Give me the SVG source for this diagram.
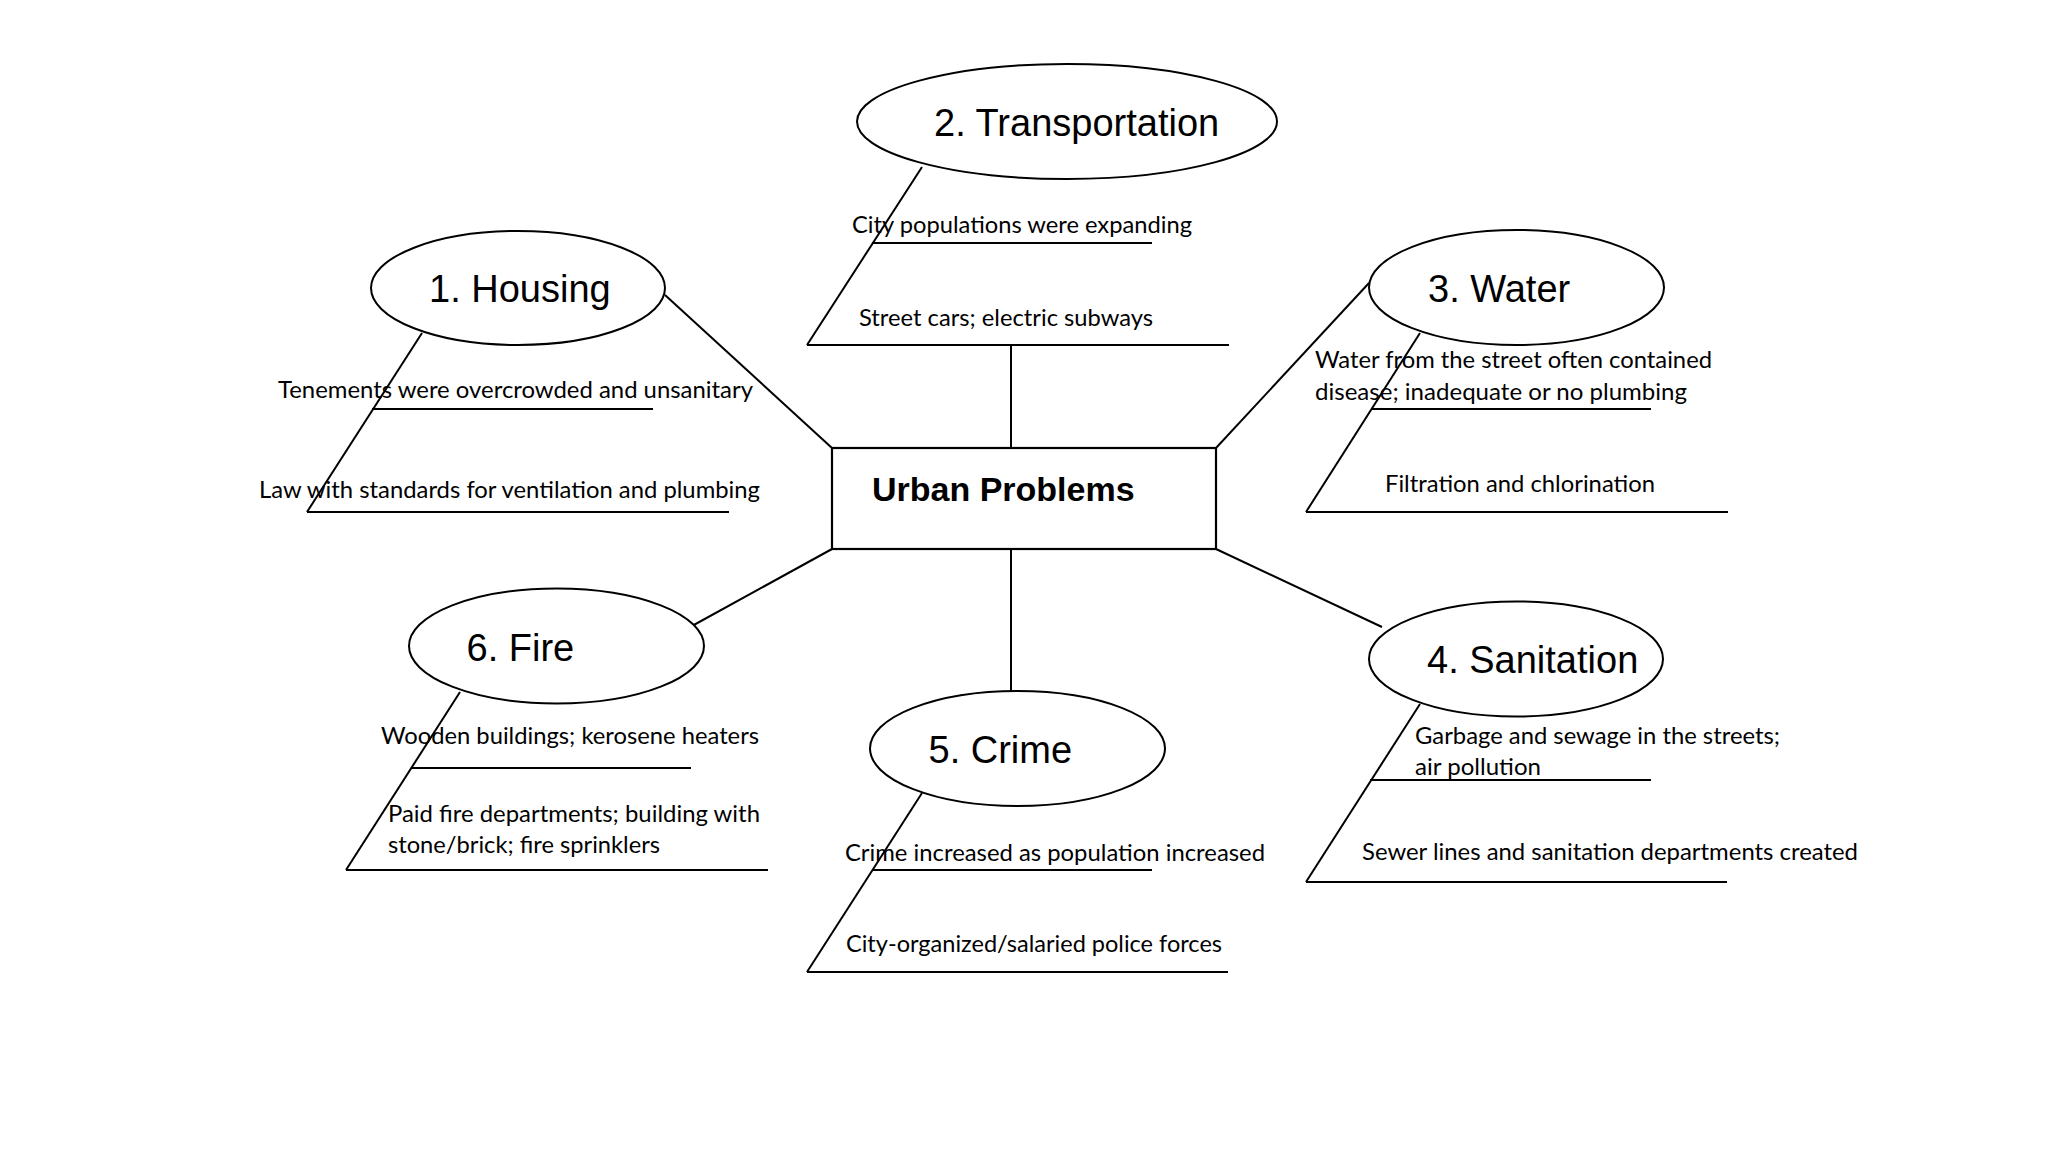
<svg xmlns="http://www.w3.org/2000/svg" width="2048" height="1152" viewBox="0 0 2048 1152">
<style>
.ln{stroke:#000;stroke-width:2;fill:none}
.el{fill:#fff;stroke:#000;stroke-width:2}
.box{fill:#fff;stroke:#000;stroke-width:2.2}
.title{font-family:"Liberation Sans",Arial,sans-serif;font-size:38px;fill:#000}
.main{font-family:"Liberation Sans",Arial,sans-serif;font-size:34px;font-weight:bold;fill:#000}
.body{font-family:Lato,"Open Sans",sans-serif;font-size:23.5px;fill:#000}
</style>
<rect width="2048" height="1152" fill="#fff"/>
<g id="connectors" class="ln">
  <line x1="1011" y1="448" x2="1011" y2="345"/>
  <line x1="665" y1="295" x2="832" y2="448"/>
  <line x1="1216" y1="448" x2="1369" y2="283"/>
  <line x1="832" y1="549" x2="692" y2="626"/>
  <line x1="1216" y1="549" x2="1382" y2="627"/>
  <line x1="1011" y1="549" x2="1011" y2="691"/>
</g>
<g id="center">
  <rect class="box" x="832" y="448" width="384" height="101"/>
  <text class="main" x="872" y="501">Urban Problems</text>
</g>
<g id="housing">
  <line class="ln" x1="422" y1="333" x2="307" y2="512"/>
  <line class="ln" x1="307" y1="512" x2="729" y2="512"/>
  <line class="ln" x1="372" y1="409" x2="653" y2="409"/>
  <ellipse class="el" cx="518" cy="288" rx="147" ry="57"/>
  <text class="title" x="429" y="302">1. Housing</text>
  <text class="body" x="278" y="398" textLength="475" lengthAdjust="spacingAndGlyphs">Tenements were overcrowded and unsanitary</text>
  <text class="body" x="259" y="498" textLength="501" lengthAdjust="spacingAndGlyphs">Law with standards for ventilation and plumbing</text>
</g>
<g id="transportation">
  <line class="ln" x1="922" y1="167" x2="807" y2="345"/>
  <line class="ln" x1="807" y1="345" x2="1229" y2="345"/>
  <line class="ln" x1="872" y1="243" x2="1152" y2="243"/>
  <ellipse class="el" cx="1067" cy="121.5" rx="210" ry="57.5"/>
  <text class="title" x="934" y="136">2. Transportation</text>
  <text class="body" x="852" y="233" textLength="340" lengthAdjust="spacingAndGlyphs">City populations were expanding</text>
  <text class="body" x="859" y="326" textLength="294" lengthAdjust="spacingAndGlyphs">Street cars; electric subways</text>
</g>
<g id="water">
  <line class="ln" x1="1420" y1="333" x2="1306" y2="512"/>
  <line class="ln" x1="1306" y1="512" x2="1728" y2="512"/>
  <line class="ln" x1="1372" y1="409" x2="1651" y2="409"/>
  <ellipse class="el" cx="1516.5" cy="287.5" rx="147.5" ry="57.5"/>
  <text class="title" x="1428" y="302">3. Water</text>
  <text class="body" x="1315" y="368" textLength="397" lengthAdjust="spacingAndGlyphs">Water from the street often contained</text>
  <text class="body" x="1315" y="400" textLength="372" lengthAdjust="spacingAndGlyphs">disease; inadequate or no plumbing</text>
  <text class="body" x="1385" y="492" textLength="270" lengthAdjust="spacingAndGlyphs">Filtration and chlorination</text>
</g>
<g id="sanitation">
  <line class="ln" x1="1420" y1="704" x2="1306" y2="882"/>
  <line class="ln" x1="1306" y1="882" x2="1727" y2="882"/>
  <line class="ln" x1="1370" y1="780" x2="1651" y2="780"/>
  <ellipse class="el" cx="1516" cy="659" rx="147" ry="57.5"/>
  <text class="title" x="1427" y="673">4. Sanitation</text>
  <text class="body" x="1415" y="744" textLength="365" lengthAdjust="spacingAndGlyphs">Garbage and sewage in the streets;</text>
  <text class="body" x="1415" y="775" textLength="126" lengthAdjust="spacingAndGlyphs">air pollution</text>
  <text class="body" x="1362" y="860" textLength="496" lengthAdjust="spacingAndGlyphs">Sewer lines and sanitation departments created</text>
</g>
<g id="crime">
  <line class="ln" x1="922" y1="793" x2="807" y2="972"/>
  <line class="ln" x1="807" y1="972" x2="1228" y2="972"/>
  <line class="ln" x1="872" y1="870" x2="1152" y2="870"/>
  <ellipse class="el" cx="1017.5" cy="748.5" rx="147.5" ry="57.5"/>
  <text class="title" x="928.5" y="763">5. Crime</text>
  <text class="body" x="845" y="861" textLength="420" lengthAdjust="spacingAndGlyphs">Crime increased as population increased</text>
  <text class="body" x="846" y="952" textLength="376" lengthAdjust="spacingAndGlyphs">City-organized/salaried police forces</text>
</g>
<g id="fire">
  <line class="ln" x1="460" y1="692" x2="346" y2="870"/>
  <line class="ln" x1="346" y1="870" x2="768" y2="870"/>
  <line class="ln" x1="411" y1="768" x2="691" y2="768"/>
  <ellipse class="el" cx="556.5" cy="646" rx="147.5" ry="57.5"/>
  <text class="title" x="466.5" y="661">6. Fire</text>
  <text class="body" x="381" y="744" textLength="378" lengthAdjust="spacingAndGlyphs">Wooden buildings; kerosene heaters</text>
  <text class="body" x="388" y="822" textLength="372" lengthAdjust="spacingAndGlyphs">Paid fire departments; building with</text>
  <text class="body" x="388" y="853" textLength="272" lengthAdjust="spacingAndGlyphs">stone/brick; fire sprinklers</text>
</g>
</svg>
